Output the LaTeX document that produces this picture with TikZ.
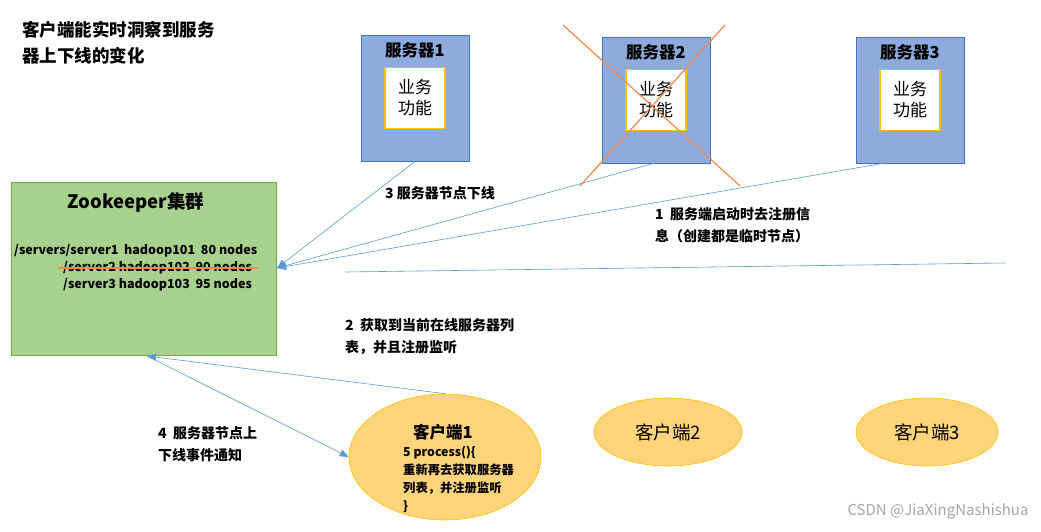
\documentclass[tikz,border=0pt]{standalone}
\usepackage{fontspec}
\setmainfont{Noto Sans CJK SC}
\usetikzlibrary{arrows.meta,calc,shapes.geometric}
\definecolor{srvfill}{HTML}{8FAADC}
\definecolor{srvline}{HTML}{4472C4}
\definecolor{inline}{HTML}{FFC000}
\definecolor{zkfill}{HTML}{A9D18E}
\definecolor{zkline}{HTML}{70AD47}
\definecolor{cl}{HTML}{FFD47A}
\definecolor{arr}{HTML}{5B9BD5}
\definecolor{crosscol}{HTML}{F4894F}
\tikzset{
 srv/.style={draw=srvline,fill=srvfill,line width=0.8pt,minimum width=108pt,minimum height=126pt,inner sep=0},
 inbox/.style={draw=inline,fill=white,line width=1.2pt,minimum width=60pt,minimum height=61pt,align=center,font=\fontsize{17}{21}\selectfont,inner sep=0},
 cli/.style={ellipse,draw=inline,fill=cl,line width=0.6pt,inner sep=0},
 lbl/.style={font=\bfseries\fontsize{14}{22}\selectfont,align=left,anchor=north west,inner sep=0},
 conn/.style={draw=arr,line width=0.6pt},
 tip/.style={-{Triangle[length=9pt,width=7pt]}},
 xline/.style={draw=crosscol,line width=1.2pt},
 stitle/.style={font=\bfseries\fontsize{16.5}{18}\selectfont},
 row/.style={font=\bfseries\fontsize{12.5}{14}\selectfont,anchor=west,inner sep=0},
}
\begin{document}
\begin{tikzpicture}[x=1pt,y=-1pt]
\useasboundingbox (0,0) rectangle (1041,531);
\fill[white] (0,0) rectangle (1041,531);
\node[lbl,font=\bfseries\fontsize{17.5}{26}\selectfont] (title) at (22,21) {客户端能实时洞察到服务\\器上下线的变化};
% servers
\node[srv] (s1) at (415,98) {};
\node[stitle] (s1t) at (415,50) {服务器1};
\node[inbox] (b1) at (415,98) {业务\\功能};
\node[srv] (s2) at (656,100) {};
\node[stitle] (s2t) at (656,52) {服务器2};
\node[inbox] (b2) at (656,100) {业务\\功能};
\node[srv] (s3) at (910,100) {};
\node[stitle] (s3t) at (910,52) {服务器3};
\node[inbox] (b3) at (910,100) {业务\\功能};
\coordinate (x1) at (563,25); \coordinate (x2) at (740,186);
\coordinate (x3) at (725,25); \coordinate (x4) at (580,186);
\draw[xline] (x1) -- (x2);
\draw[xline] (x3) -- (x4);
% zookeeper
\node[draw=zkline,fill=zkfill,line width=0.8pt,minimum width=265pt,minimum height=173pt,inner sep=0] (zk) at (143.5,268.5) {};
\node[font=\bfseries\fontsize{18.5}{20}\selectfont] (zkt) at (136,202) {Zookeeper集群};
\node[row] (r1) at (14,251) {/servers/server1\ \ hadoop101\ \ 80 nodes};
\node[row] (r2) at (63,268) {/server2 hadoop102\ \ 90 nodes};
\node[row] (r3) at (63,285) {/server3 hadoop103\ \ 95 nodes};
\draw[xline] ($(r2.west)+(-5,0)$) -- ($(r2.east)+(6,0)$);
% connectors
\coordinate (zin) at (277,268);
\coordinate (s2o) at (655,163);
\coordinate (s3o) at (885,163);
\draw[conn,tip] (s1.south) -- (zin);
\draw[conn,tip] (s2o) -- (zin);
\draw[conn,tip] (s3o) -- (zin);
\coordinate (h1) at (345,272); \coordinate (h2) at (1005,263);
\draw[conn] (h1) -- (h2);
% labels
\node[lbl] (l3) at (385,186) {3 服务器节点下线};
\node[lbl] (l1) at (655,207) {1\ \ 服务端启动时去注册信\\息（创建都是临时节点）};
\node[lbl] (l2) at (345,318) {2\ \ 获取到当前在线服务器列\\表，并且注册监听};
\node[lbl] (l4) at (158,426) {4\ \ 服务器节点上\\下线事件通知};
% clients
\node[cli,minimum width=192pt,minimum height=126pt] (c1) at (445,457) {};
\node[font=\bfseries\fontsize{16.5}{18}\selectfont] (c1t) at (443,432) {客户端1};
\node[lbl,font=\bfseries\fontsize{12.3}{18}\selectfont] (c1b) at (403,446) {5 process()\{\\重新再去获取服务器\\列表，并注册监听\\\}};
\node[cli,minimum width=148pt,minimum height=68pt,font=\fontsize{18.5}{20}\selectfont] (c2) at (668,432) {客户端2};
\node[cli,minimum width=142pt,minimum height=68pt,font=\fontsize{18.5}{20}\selectfont] (c3) at (927,432) {客户端3};
\coordinate (zb) at (147,356);
\draw[conn,tip] (c1.north) -- (zb);
\draw[conn,tip] (zb) -- (c1.west);
\node[anchor=east,text=gray!70,font=\fontsize{15}{16}\selectfont] (wm) at (1032,511) {CSDN @JiaXingNashishua};
\end{tikzpicture}
\end{document}
